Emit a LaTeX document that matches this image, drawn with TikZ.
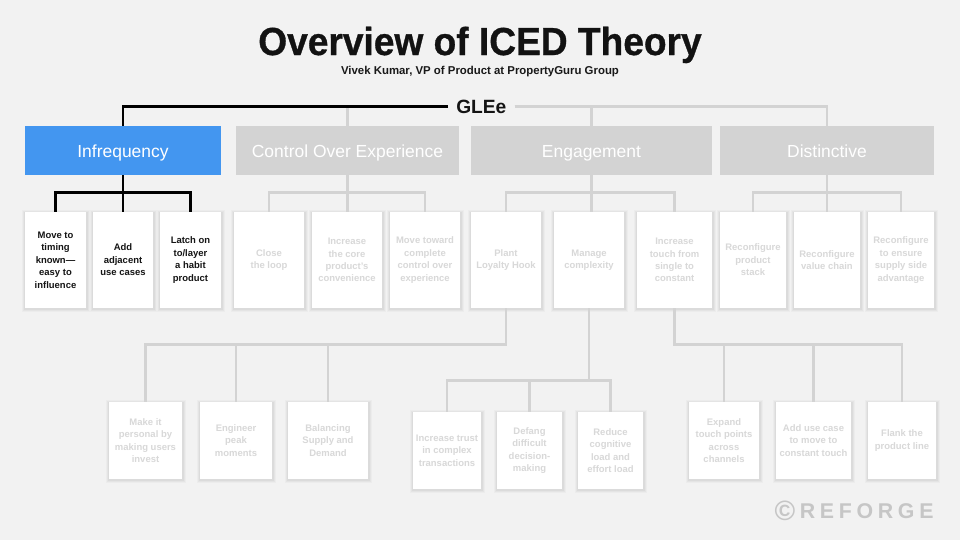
\documentclass[tikz,border=0pt]{standalone}
\usepackage{fontspec}
\setmainfont{Liberation Sans}
\newfontfamily\titlefont[FakeStretch=0.95,FakeBold=0.8]{Liberation Sans}
\usetikzlibrary{calc}
\definecolor{bg}{HTML}{F2F2F2}
\definecolor{blu}{HTML}{4396F0}
\definecolor{catg}{HTML}{D3D3D3}
\definecolor{lineg}{HTML}{D3D3D3}
\definecolor{txtg}{HTML}{D8D8D8}
\definecolor{wmc}{HTML}{C6C6C6}
\tikzset{
  blk/.style={line width=2.2pt, black},
  gry/.style={line width=1.9pt, lineg},
  boxsz/.style 2 args={minimum width=#1*0.75pt, minimum height=#2*0.75pt},
  cat/.style={fill=catg, text=white, inner sep=0pt, font=\fontsize{13.1pt}{15pt}\selectfont, text height=10pt, text depth=0pt},
  softshadow/.style={
    preaction={draw=black, line width=5pt, draw opacity=0.025, transform canvas={xshift=0.4pt, yshift=-0.8pt}},
    preaction={draw=black, line width=3.2pt, draw opacity=0.03, transform canvas={xshift=0.4pt, yshift=-0.8pt}},
    preaction={draw=black, line width=1.6pt, draw opacity=0.04, transform canvas={xshift=0.4pt, yshift=-0.8pt}}},
  leaf/.style={softshadow, fill=white, inner sep=0pt, align=center, text=txtg, font=\bfseries\fontsize{7.1pt}{9.3pt}\selectfont},
  dark/.style={text=black!92}
}
\begin{document}
\begin{tikzpicture}[x=0.75pt,y=-0.75pt]
\fill[bg] (0,0) rectangle (960,540);
\useasboundingbox (0,0) rectangle (960,540);

% title
\node[anchor=base, inner sep=0pt, font=\titlefont\bfseries\fontsize{29.3pt}{32pt}\selectfont, text=black!93] (tt) at (480,55) {Overview of ICED Theory};
\node[anchor=base, inner sep=0pt, font=\bfseries\fontsize{8.55pt}{10pt}\selectfont, text=black!90] (sub) at (480,74) {Vivek Kumar, VP of Product at PropertyGuru Group};

% root
\node[anchor=base west, inner xsep=6pt, inner ysep=0pt, font=\bfseries\fontsize{14.4pt}{16pt}\selectfont, text=black!92] (glee) at (448,113) {GLEe};

% categories
\node[cat, fill=blu, boxsz={196}{49}] (inf) at (123,150.5) {Infrequency};
\node[cat, boxsz={223}{49}] (coe) at (347.5,150.5) {Control Over Experience};
\node[cat, boxsz={241}{49}] (eng) at (591.5,150.5) {Engagement};
\node[cat, boxsz={214}{49}] (dis) at (827,150.5) {Distinctive};

% leaves row 1
\node[leaf, dark, boxsz={61}{96}] (l1) at (55.5,260) {Move to\\timing\\known—\\easy to\\influence};
\node[leaf, dark, boxsz={60}{96}] (l2) at (123,260) {Add\\adjacent\\use cases};
\node[leaf, dark, boxsz={61}{96}] (l3) at (190.5,260) {Latch on\\to/layer\\a habit\\product};
\node[leaf, boxsz={70}{96}] (l4) at (269,260) {Close\\the loop};
\node[leaf, boxsz={70}{96}] (l5) at (347,260) {Increase\\the core\\product's\\convenience};
\node[leaf, boxsz={70}{96}] (l6) at (425,260) {Move toward\\complete\\control over\\experience};
\node[leaf, boxsz={70}{96}] (l7) at (506,260) {Plant\\Loyalty Hook};
\node[leaf, boxsz={70}{96}] (l8) at (589,260) {Manage\\complexity};
\node[leaf, boxsz={75}{96}] (l9) at (674.5,260) {Increase\\touch from\\single to\\constant};
\node[leaf, boxsz={66}{96}] (l10) at (753,260) {Reconfigure\\product\\stack};
\node[leaf, boxsz={66}{96}] (l11) at (827,260) {Reconfigure\\value chain};
\node[leaf, boxsz={66}{96}] (l12) at (901,260) {Reconfigure\\to ensure\\supply side\\advantage};

% lower leaves
\node[leaf, boxsz={73}{77}] (a1) at (145.5,440.5) {Make it\\personal by\\making users\\invest};
\node[leaf, boxsz={72}{77}] (a2) at (236,440.5) {Engineer\\peak\\moments};
\node[leaf, boxsz={80}{77}] (a3) at (328,440.5) {Balancing\\Supply and\\Demand};
\node[leaf, boxsz={68}{77}] (b1) at (447,450.5) {Increase trust\\in complex\\transactions};
\node[leaf, boxsz={65}{77}] (b2) at (529.5,450.5) {Defang\\difficult\\decision-\\making};
\node[leaf, boxsz={65}{77}] (b3) at (610.5,450.5) {Reduce\\cognitive\\load and\\effort load};
\node[leaf, boxsz={70}{77}] (c1) at (724,440.5) {Expand\\touch points\\across\\channels};
\node[leaf, boxsz={75}{77}] (c2) at (813.5,440.5) {Add use case\\to move to\\constant touch};
\node[leaf, boxsz={68}{77}] (c3) at (902,440.5) {Flank the\\product line};

% watermark
\node[inner sep=0pt, text=wmc, font=\bfseries\addfontfeature{LetterSpace=22}\fontsize{16pt}{18pt}\selectfont] (wm) at (854,511) {\raisebox{-0.12em}{\fontsize{21pt}{22pt}\selectfont ©}\hspace{3.5pt}REFORGE};

% connectors top
\draw[gry] (glee.east) -| (dis.north);
\draw[gry] (glee.east) -| (eng.north);
\draw[gry] (coe.north) |- (glee.west);
\draw[blk] (glee.west) -| (inf.north);

% row 1 connectors
\coordinate (ji) at ($(inf.south)+(0,17)$);
\coordinate (jc) at ($(coe.south)+(0,17)$);
\coordinate (je) at ($(eng.south)+(0,17)$);
\coordinate (jd) at ($(dis.south)+(0,17)$);
\draw[blk] (l1.north) |- (ji) -| (l3.north);
\draw[blk] (inf.south) -- (inf.south |- l2.north);
\draw[gry] (l4.north) |- (jc) -| (l6.north);
\draw[gry] (coe.south) -- (coe.south |- l5.north);
\draw[gry] (l7.north) |- (je) -| (l9.north);
\draw[gry] (eng.south) -- (eng.south |- l8.north);
\draw[gry] (l10.north) |- (jd) -| (l12.north);
\draw[gry] (dis.south) -- (dis.south |- l11.north);

% lower connectors
\coordinate (j7) at ($(l7.south)+(0,36)$);
\coordinate (j8) at ($(l8.south)+(0,72)$);
\coordinate (j9) at ($(l9.south)+(0,36)$);
\draw[gry] (l7.south) -- (j7) -| (a1.north);
\draw[gry] (a2.north) -- (a2.north |- j7);
\draw[gry] (a3.north) -- (a3.north |- j7);
\draw[gry] (l8.south) -- (j8) -| (b1.north);
\draw[gry] (j8) -| (b3.north);
\draw[gry] (b2.north) -- (b2.north |- j8);
\draw[gry] (l9.south) -- (j9) -| (c3.north);
\draw[gry] (c1.north) -- (c1.north |- j9);
\draw[gry] (c2.north) -- (c2.north |- j9);
\end{tikzpicture}
\end{document}
